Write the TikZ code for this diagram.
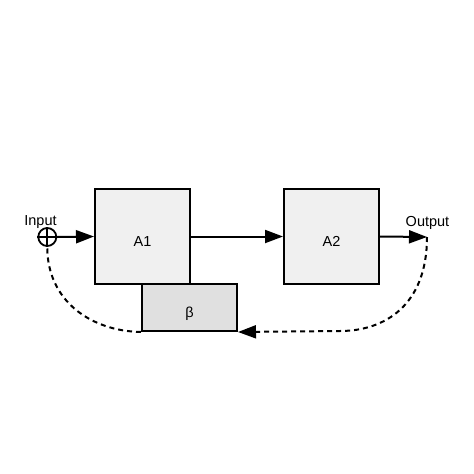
\documentclass[tikz,border=0pt]{standalone}
\usepackage{fontspec}
\setmainfont{Liberation Sans}
\usetikzlibrary{arrows.meta,calc}
\begin{document}
\begin{tikzpicture}[x=1pt,y=-1pt,
  blk/.style={draw=black, line width=2pt, fill=black!6, inner sep=0pt, font=\fontsize{14.5}{16}\selectfont, text height=20pt, text depth=0pt},
  sumj/.style={circle, draw=black, line width=1.8pt, minimum size=18pt, inner sep=0pt},
  lbl/.style={font=\fontsize{14.5}{16}\selectfont, inner sep=0pt},
  arr/.style={line width=2pt, -{Triangle[length=18pt,width=13pt]}},
  fb/.style={line width=2pt, dash pattern=on 5pt off 4pt}
]
\useasboundingbox (0,0) rectangle (474,474);
\node[sumj] (sum) at (47.3,237) {};
\draw[line width=1.8pt] (sum.north) -- (sum.south) (sum.west) -- (sum.east);
\node[blk, minimum width=95pt, minimum height=95pt] (A1) at (142.5,236.5) {A1};
\node[blk, minimum width=95pt, minimum height=95pt] (A2) at (331.5,236.5) {A2};
\node[blk, fill=black!12, minimum width=95pt, minimum height=47pt] (B) at (189.5,307.5) {β};
\coordinate (out) at (427,237);
\node[lbl] (inlbl) at (40.5,222.5) {Input};
\node[lbl] (outlbl) at (427.5,222.5) {Output};
\draw[arr] (sum.east) -- (A1.west);
\draw[arr] (A1.east) -- (A2.west);
\draw[arr] (A2.east) -- (out);
\draw[fb, -{Triangle[length=18pt,width=13pt]}] (out) .. controls (427,305) and (385,331) .. (340,331) -- (B.south east);
\draw[fb] (B.south west) .. controls (90,331) and (47,300) .. (sum.south);
\end{tikzpicture}
\end{document}
